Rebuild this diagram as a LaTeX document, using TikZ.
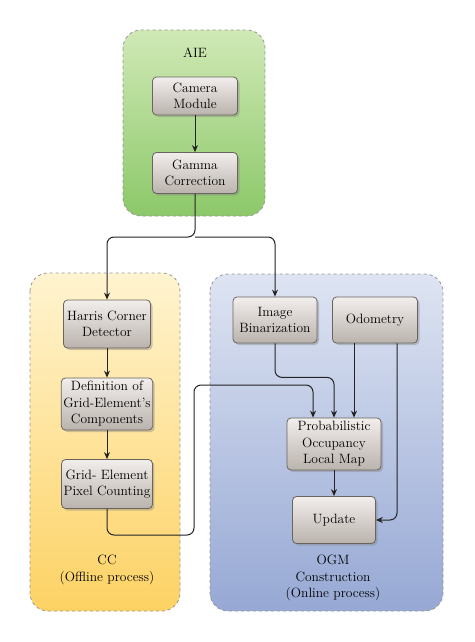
\documentclass[tikz,border=0pt]{standalone}
\usepackage{tikz}
\usetikzlibrary{arrows.meta, positioning, calc, shadows}
\definecolor{aietop}{RGB}{208, 233, 182}
\definecolor{aiebot}{RGB}{140, 200, 105}
\definecolor{cctop}{RGB}{255, 244, 208}
\definecolor{ccbot}{RGB}{253, 210, 100}
\definecolor{ogmtop}{RGB}{222, 228, 242}
\definecolor{ogmbot}{RGB}{150, 168, 212}
\definecolor{boxtop}{RGB}{242, 238, 236}
\definecolor{boxbot}{RGB}{186, 179, 173}
\definecolor{boxedge}{RGB}{105, 100, 96}
\definecolor{groupedge}{RGB}{150, 150, 150}
\definecolor{linecol}{RGB}{35, 35, 35}

\begin{document}
\begin{tikzpicture}[x=1pt, y=-1pt, font=\fontsize{13.5}{16.5}\selectfont,
  block/.style={draw=boxedge, line width=0.8pt, rounded corners=4pt,
    top color=boxtop, bottom color=boxbot, align=center, inner sep=2pt,
    drop shadow={shadow xshift=2pt, shadow yshift=-2pt, opacity=0.4}},
  group/.style={draw=groupedge, dashed, line width=0.8pt, rounded corners=18pt},
  arr/.style={-{Stealth[length=7pt,width=6pt]}, line width=1pt, draw=linecol,
    rounded corners=7pt}]
  \useasboundingbox (0,0) rectangle (474,642);

  % Groups
  \path[group, top color=aietop, bottom color=aiebot] (123,30) rectangle (265,216);
  \path[group, top color=cctop, bottom color=ccbot] (30,273) rectangle (180,611);
  \path[group, top color=ogmtop, bottom color=ogmbot] (210,274) rectangle (443,611);

  % Group labels
  \node (aielbl) at (195,53) {AIE};
  \node[align=center] (cclbl) at (107,570) {CC\\(Offline process)};
  \node[align=center] (ogmlbl) at (333,578) {OGM\\Construction\\(Online process)};

  % AIE blocks
  \node[block, minimum width=85pt, minimum height=38pt] (cam) at (195,96) {Camera\\Module};
  \node[block, minimum width=85pt, minimum height=41pt] (gam) at (195,173) {Gamma\\Correction};

  % CC blocks
  \node[block, minimum width=87pt, minimum height=48pt] (harris) at (107,324) {Harris Corner\\Detector};
  \node[block, minimum width=87pt, minimum height=52pt] (defn) at (107,404) {Definition of\\Grid-Element's\\Components};
  \node[block, minimum width=87pt, minimum height=49pt] (grid) at (107,484) {Grid- Element\\Pixel Counting};

  % OGM blocks
  \node[block, minimum width=84pt, minimum height=46pt] (bin) at (275,320) {Image\\Binarization};
  \node[block, minimum width=85pt, minimum height=46pt] (odo) at (375,320) {Odometry};
  \node[block, minimum width=94pt, minimum height=52pt] (prob) at (334,444) {Probabilistic\\Occupancy\\Local Map};
  \node[block, minimum width=83pt, minimum height=47pt] (upd) at (334,520) {Update};

  % Connectors
  \coordinate (split) at (195,237);
  \coordinate (ccdown) at (194,535);
  \coordinate (ccup) at (194,385);
  \coordinate (ccin) at (313,385);
  \coordinate (odoa) at ($(odo.south)+(-21,0)$);
  \coordinate (odob) at ($(odo.south)+(22,0)$);

  \draw[arr] (cam) -- (gam);
  \draw[arr] (gam.south) -- (split) -| (harris.north);
  \draw[arr] (split) -| (bin.north);
  \draw[arr] (harris) -- (defn);
  \draw[arr] (defn) -- (grid);
  \draw[arr] (grid.south) |- (ccdown) -- (ccup) -- (ccin) -- (ccin |- prob.north);
  \draw[arr] (bin.south) -- ++(0,34) -| (prob.north);
  \draw[arr] (odoa) -- (odoa |- prob.north);
  \draw[arr] (odob) |- (upd.east);
  \draw[arr] (prob) -- (upd);
\end{tikzpicture}
\end{document}
